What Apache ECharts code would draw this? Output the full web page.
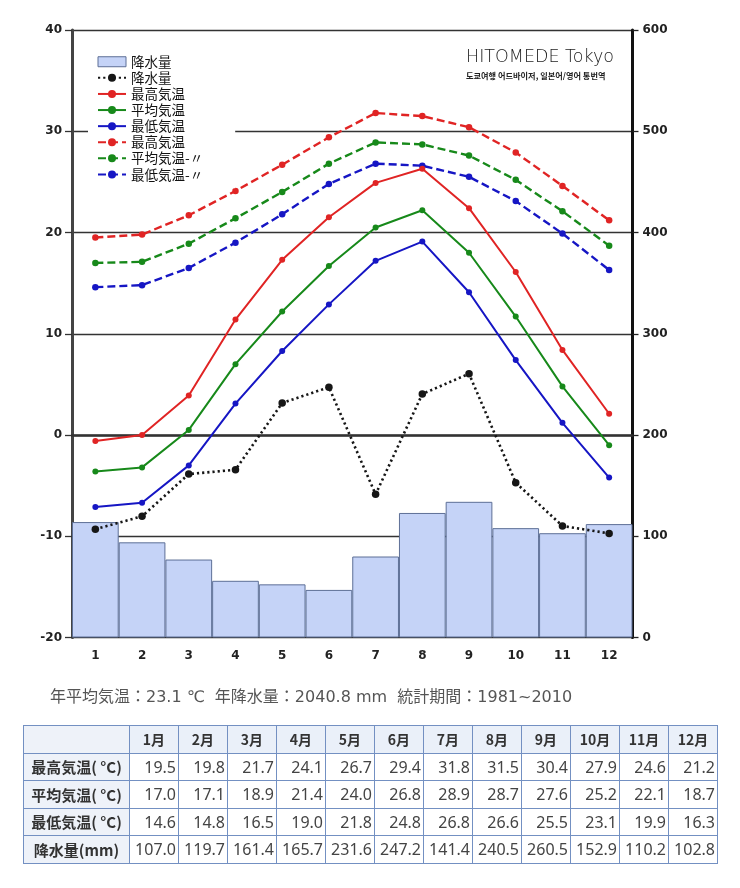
<!DOCTYPE html>
<html>
<head>
<meta charset="utf-8">
<script src="https://cdn.jsdelivr.net/npm/echarts@6/dist/echarts.min.js"></script>
<style>
  html, body { margin: 0; padding: 0; background: #fff; }
  #wrap { position: relative; width: 740px; height: 888px; overflow: hidden; }
  #chart { position: absolute; left: 0; top: 0; width: 740px; height: 888px; }
  #summary { position: absolute; left: 50px; top: 686px; font-family: "DejaVu Sans", "Noto Sans CJK JP", sans-serif; font-size: 16px; color: #555; white-space: pre; line-height: 22px; }
  #tbl { position: absolute; left: 23px; top: 725px; border-collapse: collapse; table-layout: fixed; width: 694px; }
  #tbl td, #tbl th { border: 1px solid #7390c2; height: 26.5px; padding: 0; }
  #tbl th { background: #eaf0f9; font-family: "Noto Sans CJK JP", sans-serif; font-weight: bold; font-size: 14px; color: #333; text-align: center; }
  #tbl th.rowh { background: #eef2f9; text-align: center; font-size: 15px; padding-left: 0; white-space: nowrap; }
  #tbl td { font-family: "Noto Sans", "Noto Sans CJK JP", sans-serif; font-size: 16px; color: #444; text-align: right; padding-right: 2px; }
</style>
</head>
<body>
<div id="wrap">
  <div id="chart"></div>
  <div id="summary"></div>
  <table id="tbl"></table>
</div>
<script>
// ---- data ----
const months = ['1', '2', '3', '4', '5', '6', '7', '8', '9', '10', '11', '12'];
const monthHeaders = ['1月', '2月', '3月', '4月', '5月', '6月', '7月', '8月', '9月', '10月', '11月', '12月'];
const tempTicks = [-20, -10, 0, 10, 20, 30, 40];
const precipTicks = [0, 100, 200, 300, 400, 500, 600];

// comparison city (bars + solid lines)
const barPrecip = [114, 94, 77, 56, 52.5, 47, 80, 123, 134, 108, 103, 112];
const maxSolid = [-0.6, 0.0, 3.9, 11.4, 17.3, 21.5, 24.9, 26.3, 22.4, 16.1, 8.4, 2.1];
const avgSolid = [-3.6, -3.2, 0.5, 7.0, 12.2, 16.7, 20.5, 22.2, 18.0, 11.7, 4.8, -1.0];
const minSolid = [-7.1, -6.7, -3.0, 3.1, 8.3, 12.9, 17.2, 19.1, 14.1, 7.4, 1.2, -4.2];

// table values (dotted + dashed lines)
const maxTemp = [19.5, 19.8, 21.7, 24.1, 26.7, 29.4, 31.8, 31.5, 30.4, 27.9, 24.6, 21.2];
const avgTemp = [17.0, 17.1, 18.9, 21.4, 24.0, 26.8, 28.9, 28.7, 27.6, 25.2, 22.1, 18.7];
const minTemp = [14.6, 14.8, 16.5, 19.0, 21.8, 24.8, 26.8, 26.6, 25.5, 23.1, 19.9, 16.3];
const precip = [107.0, 119.7, 161.4, 165.7, 231.6, 247.2, 141.4, 240.5, 260.5, 152.9, 110.2, 102.8];

const legendNames = {
  barP: '降水量', dotP: '降水量', maxS: '最高気温', avgS: '平均気温', minS: '最低気温',
  maxD: '最高気温', avgD: '平均気温-〃', minD: '最低気温-〃'
};
const rowLabels = ['最高気温( °C)', '平均気温( °C)', '最低気温( °C)', '降水量(mm)'];
const summaryText = '年平均気温：23.1 ℃  年降水量：2040.8 mm  統計期間：1981~2010';
const brandText = 'HITOMEDE Tokyo';
const brandSub = '도쿄여행 어드바이저, 일본어/영어 통번역';

// ---- colours ----
const RED = '#e02424', GREEN = '#17891a', BLUE = '#1616c4', BLACK = '#161616';

function solid(id, data, color) {
  return {
    name: id, type: 'line', data: data, yAxisIndex: 0, z: 4,
    symbol: 'circle', symbolSize: 6,
    lineStyle: { color: color, width: 2 },
    itemStyle: { color: color }
  };
}
function dashed(id, data, color) {
  return {
    name: id, type: 'line', data: data, yAxisIndex: 0, z: 3,
    symbol: 'circle', symbolSize: 6.5,
    lineStyle: { color: color, width: 2.4, type: [8, 4] },
    itemStyle: { color: color }
  };
}

const chart = echarts.init(document.getElementById('chart'), null, { renderer: 'canvas' });
const labelFont = { fontFamily: 'DejaVu Sans', fontWeight: 'bold', fontSize: 12, color: '#222' };

chart.setOption({
  animation: false,
  backgroundColor: '#fff',
  grid: { left: 72, right: 107.5, top: 30, bottom: 250.5, containLabel: false },
  legend: {
    orient: 'vertical', left: 88, top: 43,
    padding: [12, 32, 7, 9],
    backgroundColor: '#fff',
    itemWidth: 28, itemHeight: 10, itemGap: 2.6,
    textStyle: { fontFamily: 'Noto Sans CJK JP', fontSize: 13.5, color: '#111', lineHeight: 13 },
    formatter: function (n) { return legendNames[n]; },
    data: [
      { name: 'barP', icon: 'rect', itemStyle: { color: '#c5d3f7', borderColor: '#5d6f96', borderWidth: 1 } },
      'dotP', 'maxS', 'avgS', 'minS', 'maxD', 'avgD', 'minD'
    ]
  },
  xAxis: {
    type: 'category', data: months, boundaryGap: true,
    axisLine: { lineStyle: { color: '#333', width: 2.5 } },
    axisTick: { alignWithLabel: true, length: 5, lineStyle: { color: '#333', width: 1.5 } },
    axisLabel: Object.assign({ margin: 12, fontSize: 13 }, labelFont),
    splitLine: { show: false }
  },
  yAxis: [
    {
      type: 'value', min: tempTicks[0], max: tempTicks[tempTicks.length - 1], interval: 10,
      axisLine: { show: true, lineStyle: { color: '#444', width: 3 } },
      axisTick: { show: true, length: 7, lineStyle: { color: '#333', width: 1.3 } },
      axisLabel: Object.assign({ margin: 10 }, labelFont),
      splitLine: { show: true, lineStyle: { color: '#333', width: 1.3 } }
    },
    {
      type: 'value', min: precipTicks[0], max: precipTicks[precipTicks.length - 1], interval: 100,
      position: 'right',
      axisLine: { show: true, lineStyle: { color: '#111', width: 3 } },
      axisTick: { show: true, length: 6, lineStyle: { color: '#222', width: 1.3 } },
      axisLabel: Object.assign({ margin: 10 }, labelFont),
      splitLine: { show: false }
    }
  ],
  graphic: [
    { type: 'text', left: 466, top: 48, style: { text: brandText, fontFamily: 'DejaVu Sans', fontWeight: 200, fontSize: 17.5, fill: '#222' } },
    { type: 'text', left: 466, top: 72, style: { text: brandSub, fontFamily: 'Noto Sans CJK KR', fontWeight: 'bold', fontSize: 8.2, fill: '#222' } }
  ],
  series: [
    {
      name: 'barP', type: 'bar', data: barPrecip, yAxisIndex: 1, z: 2,
      barCategoryGap: 0,
      itemStyle: { color: '#c5d3f7', borderColor: '#5d6f96', borderWidth: 1 }
    },
    {
      name: 'dotP', type: 'line', data: precip, yAxisIndex: 1, z: 3,
      symbol: 'circle', symbolSize: 7.5,
      lineStyle: { color: BLACK, width: 2.6, type: [2.2, 3] },
      itemStyle: { color: BLACK }
    },
    solid('maxS', maxSolid, RED),
    solid('avgS', avgSolid, GREEN),
    solid('minS', minSolid, BLUE),
    dashed('maxD', maxTemp, RED),
    dashed('avgD', avgTemp, GREEN),
    dashed('minD', minTemp, BLUE)
  ]
});

// ---- summary + table ----
document.getElementById('summary').textContent = summaryText;
const tbl = document.getElementById('tbl');
let html = '<colgroup><col style="width:106px">';
for (let i = 0; i < 12; i++) html += '<col style="width:49px">';
html += '</colgroup><tr><th class="rowh"></th>';
monthHeaders.forEach(function (m) { html += '<th>' + m + '</th>'; });
html += '</tr>';
[maxTemp, avgTemp, minTemp, precip].forEach(function (row, r) {
  html += '<tr><th class="rowh">' + rowLabels[r] + '</th>';
  row.forEach(function (v) { html += '<td>' + v.toFixed(1) + '</td>'; });
  html += '</tr>';
});
tbl.innerHTML = html;
</script>
</body>
</html>
